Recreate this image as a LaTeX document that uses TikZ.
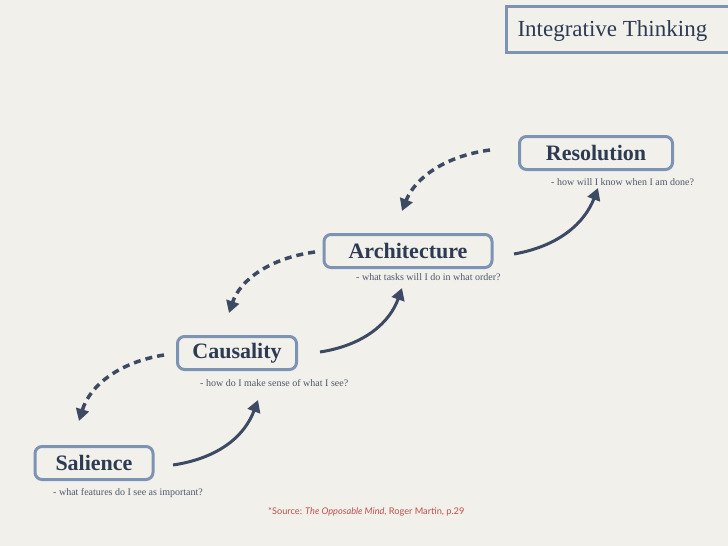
\documentclass[tikz,border=0pt]{standalone}
\usepackage{fontspec}
\setmainfont{Liberation Serif}
\newfontfamily\srcfont{Lato}
\usetikzlibrary{arrows.meta}
\definecolor{bg}{HTML}{F2F0EB}
\definecolor{boxc}{HTML}{7C93B4}
\definecolor{arr}{HTML}{3D4A63}
\definecolor{txt}{HTML}{2C3A52}
\definecolor{src}{HTML}{C0504D}
\tikzset{
 stage/.style={draw=boxc,line width=3pt,rounded corners=7pt,text=txt,font=\bfseries\fontsize{22}{26}\selectfont,minimum height=33pt,inner sep=0pt},
 sub/.style={text=txt!85,font=\fontsize{10}{12}\selectfont,anchor=west,inner sep=0pt},
 fwd/.style={draw=arr,line width=3pt,-{Triangle[length=12pt,width=13pt]}},
 back/.style={draw=arr,line width=3.5pt,dash pattern=on 7pt off 5pt,-{Triangle[length=12pt,width=13pt]}}
}
\begin{document}
\begin{tikzpicture}[x=1pt,y=-1pt]
\fill[bg] (0,0) rectangle (728,546);
\useasboundingbox (0,0) rectangle (728,546);
\draw[boxc,line width=3pt] (730,6) -- (506,6) -- (506,52) -- (730,52);
\node[text=txt,font=\fontsize{23}{26}\selectfont,anchor=west] (title) at (514,31) {Integrative Thinking};
\node[stage,minimum width=118pt] (sal) at (94,463) {Salience};
\node[stage,minimum width=119pt] (cau) at (237,353) {Causality};
\node[stage,minimum width=168pt] (arc) at (408,251) {Architecture};
\node[stage,minimum width=153pt] (res) at (596,153) {Resolution};
\node[sub] (s1) at (53,493) {- what features do I see as important?};
\node[sub] (s2) at (200,383) {- how do I make sense of what I see?};
\node[sub] (s3) at (356,277) {- what tasks will I do in what order?};
\node[sub] (s4) at (551,182) {- how will I know when I am done?};
\node[text=src,font=\srcfont\fontsize{9.2}{11}\selectfont,anchor=west,inner sep=0pt] (srcn) at (268,512) {*Source: \textit{The Opposable Mind}, Roger Martin, p.29};
\coordinate (a1) at (173,465); \coordinate (b1) at (258,400);
\coordinate (a2) at (320,352); \coordinate (b2) at (402,288);
\coordinate (a3) at (514,254); \coordinate (b3) at (598,188);
\draw[fwd] (a1) .. controls (220,458) and (245,435) .. (b1);
\draw[fwd] (a2) .. controls (365,345) and (390,322) .. (b2);
\draw[fwd] (a3) .. controls (560,246) and (585,222) .. (b3);
\coordinate (c1) at (164,355); \coordinate (d1) at (79,421);
\coordinate (c2) at (315,252); \coordinate (d2) at (229,313);
\coordinate (c3) at (490,150); \coordinate (d3) at (402,211);
\draw[back] (c1) .. controls (120,362) and (90,385) .. (d1);
\draw[back] (c2) .. controls (270,258) and (240,280) .. (d2);
\draw[back] (c3) .. controls (445,156) and (415,178) .. (d3);
\end{tikzpicture}
\end{document}
